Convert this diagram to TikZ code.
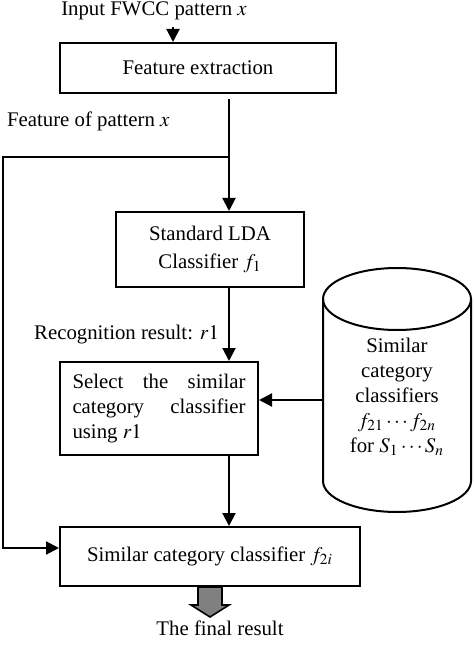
\documentclass[tikz,border=0pt]{standalone}
\usepackage{mathptmx}
\usepackage{fontspec}
\setmainfont{Liberation Serif}
\usetikzlibrary{arrows.meta}
\tikzstyle{blk}=[draw=black, line width=1pt, inner sep=0pt]
\tikzstyle{con}=[line width=1pt, -{Triangle[length=6.5pt,width=6.5pt]}]
\tikzstyle{ln}=[line width=1pt]

\begin{document}
\begin{tikzpicture}[x=0.5pt, y=-0.5pt, font=\fontsize{10.4}{12.5}\selectfont]
    \useasboundingbox (0,0) rectangle (474,657);
    \node (in) at (154,11) {Input FWCC pattern $x$};
    \node[blk, minimum width=138pt, minimum height=25pt] (fe) at (198,68) {Feature extraction};
    \node[anchor=west] (feat) at (0,121) {Feature of pattern $x$};
    \node[blk, minimum width=94pt, minimum height=37.5pt, align=center,
      font=\fontsize{10.4}{14}\selectfont] (lda) at (210,249.5) {Standard LDA\\Classifier $f_1$};
    \node[anchor=east] (rec) at (226,335) {Recognition result: $r1$};
    \node[blk, inner xsep=6.25pt, text width=86.5pt, minimum height=46.5pt, align=justify]
      (sel) at (159,408.5) {Select the similar category classifier using $r1$};
    \node[blk, minimum width=150pt, minimum height=29.5pt] (fin) at (210,556.5)
      {Similar category classifier $f_{2i}$};
    \node (res) at (220,628) {The final result};

    % database cylinder
    \draw[ln] (323,299) -- (323,481) arc[start angle=180, end angle=360, x radius=37pt, y radius=15.5pt]
      -- (471,299);
    \draw[ln] (397,299) ellipse [x radius=37pt, y radius=15.5pt];
    \node[align=center] (db) at (397,397) {Similar\\category\\classifiers\\$f_{21}\cdots f_{2n}$\\for $S_1 \cdots S_n$};

    \coordinate (a1) at (173,27);
    \coordinate (top) at (229,99);
    \coordinate (jn) at (229,157);
    \coordinate (jl) at (3,157);
    \coordinate (bl) at (3,548);
    \coordinate (cy) at (323,400);

    \draw[ln] (top) -- (jn);
    \foreach \from/\to in {a1/a1 |- fe.north, jn/jn |- lda.north,
          lda.south -| jn/sel.north -| jn, sel.south -| jn/fin.north -| jn,
          cy/sel.east |- cy}
      \draw[con] (\from) -- (\to);
    \draw[con] (jn) -- (jl) -- (bl) -- (fin.west |- bl);

    \draw[line width=0.8pt, fill=black!50] (198,587) -- (198,605) -- (191,605) -- (210,617)
      -- (229,605) -- (222,605) -- (222,587) -- cycle;
\end{tikzpicture}
\end{document}
